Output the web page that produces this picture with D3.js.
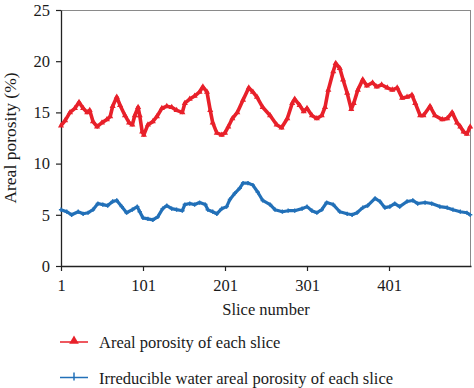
<!DOCTYPE html>
<html>
<head>
<meta charset="utf-8">
<script src="https://cdn.jsdelivr.net/npm/d3@7"></script>
<style>
  body { margin: 0; background: #fff; }
  svg { display: block; font-family: "Liberation Serif", "DejaVu Serif", serif; }
</style>
</head>
<body>
<div id="chart"></div>
<script>
// Areal porosity of each slice (red)
const arealSlices = [1, 6, 12, 18, 23, 28, 33, 36, 40, 45, 51, 57, 61, 64, 69, 73, 79, 84, 88, 91, 95, 97, 100, 102, 107, 113, 118, 124, 130, 136, 142, 149, 152, 158, 164, 170, 174, 179, 183, 186, 191, 197, 201, 205, 210, 216, 223, 230, 235, 240, 247, 256, 264, 270, 277, 283, 286, 292, 297, 301, 307, 313, 319, 323, 327, 333, 336, 341, 345, 350, 355, 358, 363, 369, 374, 381, 386, 392, 399, 405, 411, 417, 423, 429, 433, 439, 443, 451, 457, 466, 472, 478, 484, 488, 492, 496, 500];
const arealValues = [13.7, 14.2, 15.0, 15.4, 16.0, 15.4, 15.0, 15.2, 14.1, 13.6, 14.0, 14.3, 14.6, 15.6, 16.5, 15.7, 14.7, 14.0, 13.8, 14.7, 15.5, 14.7, 13.1, 12.8, 13.8, 14.1, 14.6, 15.4, 15.6, 15.5, 15.2, 15.0, 15.9, 16.3, 16.6, 17.0, 17.5, 17.0, 15.2, 14.0, 13.0, 12.8, 13.0, 13.6, 14.4, 15.0, 16.2, 17.4, 17.0, 16.5, 15.5, 14.7, 13.8, 13.5, 14.4, 15.9, 16.3, 15.7, 15.1, 15.4, 14.7, 14.4, 14.7, 15.5, 17.2, 19.0, 19.8, 19.3, 18.2, 16.9, 15.3, 15.9, 17.2, 18.2, 17.6, 17.9, 17.5, 17.7, 17.4, 17.2, 17.4, 16.4, 16.5, 16.7, 15.9, 14.7, 14.7, 15.6, 14.7, 14.3, 14.4, 15.0, 14.0, 13.6, 13.1, 12.9, 13.6];

// Irreducible water areal porosity of each slice (blue)
const waterSlices = [1, 8, 14, 22, 28, 34, 40, 46, 52, 58, 64, 69, 75, 81, 88, 94, 97, 101, 107, 113, 119, 125, 130, 136, 142, 149, 152, 158, 164, 170, 177, 180, 186, 191, 197, 203, 207, 213, 219, 223, 229, 235, 241, 247, 256, 262, 271, 278, 286, 295, 301, 307, 313, 319, 325, 333, 341, 350, 356, 362, 369, 375, 384, 390, 396, 402, 408, 414, 423, 430, 436, 445, 453, 463, 472, 479, 488, 496, 500];
const waterValues = [5.5, 5.3, 5.0, 5.3, 5.1, 5.2, 5.5, 6.1, 6.0, 5.9, 6.3, 6.4, 5.8, 5.2, 5.5, 5.8, 5.3, 4.7, 4.6, 4.5, 4.8, 5.6, 5.9, 5.6, 5.5, 5.4, 6.0, 6.1, 6.0, 6.2, 6.0, 5.5, 5.3, 5.1, 5.6, 5.8, 6.5, 7.1, 7.6, 8.1, 8.1, 7.9, 7.2, 6.4, 6.0, 5.5, 5.3, 5.4, 5.4, 5.6, 5.8, 5.4, 5.2, 5.5, 6.2, 6.0, 5.3, 5.1, 5.0, 5.2, 5.7, 5.9, 6.6, 6.3, 5.7, 5.8, 6.1, 5.8, 6.3, 6.4, 6.1, 6.2, 6.1, 5.8, 5.7, 5.5, 5.3, 5.2, 5.0];

const xTicks = [1, 101, 201, 301, 401];
const yTicks = [0, 5, 10, 15, 20, 25];
const legendLabels = ["Areal porosity of each slice", "Irreducible water areal porosity of each slice"];

const RED = "#e8202a",
    BLUE = "#2270b8";

const WIDTH = 474,
    HEIGHT = 388;

const margins = { top: 10, left: 61, right: 3, bottom: 122 };
const width = WIDTH - margins.left - margins.right,
    height = HEIGHT - margins.top - margins.bottom;

const svg = d3.select("#chart")
    .append("svg")
    .attr("width", WIDTH)
    .attr("height", HEIGHT);

const xScale = d3.scaleLinear().domain([1, 501]).range([0, width]);
const yScale = d3.scaleLinear().domain([0, 25]).range([height, 0]);

const plot = svg.append("g")
    .attr("transform", `translate(${margins.left}, ${margins.top})`);

// gray frame on top and right
plot.append("line")
    .attr("x1", 0).attr("x2", width).attr("y1", 0.5).attr("y2", 0.5)
    .attr("stroke", "#8a8a8a");
plot.append("line")
    .attr("x1", width - 0.5).attr("x2", width - 0.5).attr("y1", 0).attr("y2", height)
    .attr("stroke", "#8a8a8a");

const yAxis = plot.append("g")
    .call(d3.axisLeft(yScale).tickValues(yTicks).tickSize(5).tickSizeOuter(0).tickPadding(6));
const xAxis = plot.append("g")
    .attr("transform", `translate(0, ${height})`)
    .call(d3.axisBottom(xScale).tickValues(xTicks).tickFormat(d3.format("d")).tickSize(5).tickSizeOuter(0).tickPadding(8));

[yAxis, xAxis].forEach(ax => {
    ax.select(".domain").attr("stroke", "#222").attr("stroke-width", 1.3);
    ax.selectAll(".tick line").attr("stroke", "#222").attr("stroke-width", 1.2);
    ax.selectAll(".tick text")
        .attr("font-family", "Liberation Serif, serif")
        .attr("font-size", 16.5)
        .attr("fill", "#1a1a1a");
});

const arealData = arealSlices.map((s, i) => ({ slice: s, value: arealValues[i] }));
const waterData = waterSlices.map((s, i) => ({ slice: s, value: waterValues[i] }));

const line = d3.line()
    .x(d => xScale(d.slice))
    .y(d => yScale(d.value));

plot.append("path")
    .datum(waterData)
    .attr("d", line)
    .attr("fill", "none")
    .attr("stroke", BLUE)
    .attr("stroke-width", 3.2)
    .attr("stroke-linejoin", "round");

plot.append("g")
    .selectAll("path")
    .data(waterData)
    .join("path")
    .attr("transform", d => `translate(${xScale(d.slice)}, ${yScale(d.value)})`)
    .attr("d", d3.symbol(d3.symbolCross, 10))
    .attr("fill", BLUE);

plot.append("path")
    .datum(arealData)
    .attr("d", line)
    .attr("fill", "none")
    .attr("stroke", RED)
    .attr("stroke-width", 3.6)
    .attr("stroke-linejoin", "round");

plot.append("g")
    .selectAll("path")
    .data(arealData)
    .join("path")
    .attr("transform", d => `translate(${xScale(d.slice)}, ${yScale(d.value)})`)
    .attr("d", d3.symbol(d3.symbolTriangle, 16))
    .attr("fill", RED);

// axis titles
svg.append("text")
    .attr("transform", `translate(16, ${margins.top + height / 2}) rotate(-90)`)
    .attr("text-anchor", "middle")
    .attr("font-size", 17.5)
    .attr("fill", "#1a1a1a")
    .text("Areal porosity (%)");

svg.append("text")
    .attr("x", margins.left + width / 2)
    .attr("y", 315)
    .attr("text-anchor", "middle")
    .attr("font-size", 16.5)
    .attr("fill", "#1a1a1a")
    .text("Slice number");

// legend
const legend = svg.append("g").attr("transform", "translate(60, 342)");
const legendItems = legend.selectAll("g")
    .data(legendLabels)
    .join("g")
    .attr("transform", (_, i) => `translate(0, ${i * 35.5})`);

legendItems.append("line")
    .attr("x1", 0).attr("x2", 28)
    .attr("stroke", (_, i) => i == 0 ? RED : BLUE)
    .attr("stroke-width", 1.5);

legendItems.append("path")
    .attr("transform", "translate(14, -1)")
    .attr("d", (_, i) => i == 0 ? d3.symbol(d3.symbolTriangle, 40)() : "M0,-4V4")
    .attr("fill", RED)
    .attr("stroke", (_, i) => i == 0 ? "none" : BLUE)
    .attr("stroke-width", 1.5);

legendItems.append("text")
    .attr("x", 39)
    .attr("y", 6)
    .attr("font-size", 16.5)
    .attr("fill", "#1a1a1a")
    .text(d => d);
</script>
</body>
</html>
